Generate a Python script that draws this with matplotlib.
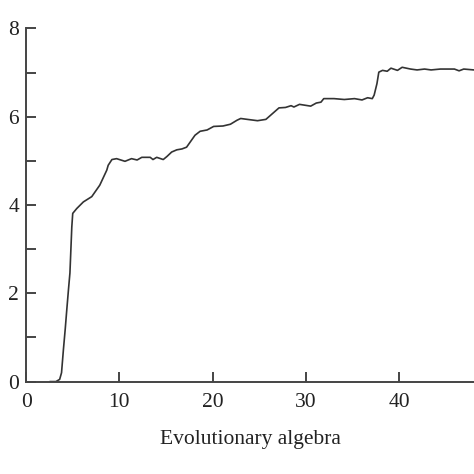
import matplotlib.pyplot as plt
from matplotlib.ticker import MultipleLocator

plt.rcParams['font.family'] = ['Liberation Serif', 'DejaVu Serif']

# curve
generations = [2.6, 3.2, 3.6, 3.8, 4.0, 4.2, 4.36, 4.55, 4.7, 4.9, 5.0, 5.43, 6.14,
               7.04, 7.9, 8.65, 8.8, 9.2, 9.7, 10.6, 11.3, 11.9, 12.4, 13.3, 13.6,
               14.0, 14.7, 15.1, 15.6, 16.15, 16.7, 17.2, 17.6, 18.1, 18.65, 19.4,
               20.1, 21.1, 21.9, 22.6, 23.0, 23.7, 24.8, 25.7, 26.4, 27.1, 27.8,
               28.4, 28.7, 29.3, 30.5, 31.1, 31.6, 31.9, 33.0, 34.1, 35.2, 36.0,
               36.6, 37.1, 37.3, 37.6, 37.8, 38.2, 38.7, 39.1, 39.8, 40.3, 41.2,
               41.9, 42.7, 43.4, 44.4, 45.9, 46.4, 46.9, 48.0, 50.0]
fitness = [0.0, 0.0, 0.05, 0.2, 0.72, 1.2, 1.62, 2.1, 2.46, 3.5, 3.81, 3.92, 4.07,
           4.19, 4.45, 4.79, 4.9, 5.03, 5.05, 4.99, 5.05, 5.02, 5.08, 5.08, 5.03,
           5.08, 5.03, 5.1, 5.2, 5.25, 5.27, 5.31, 5.43, 5.58, 5.67, 5.7, 5.78,
           5.79, 5.83, 5.92, 5.96, 5.94, 5.91, 5.94, 6.07, 6.2, 6.21, 6.25, 6.22,
           6.28, 6.24, 6.31, 6.33, 6.41, 6.41, 6.39, 6.41, 6.38, 6.43, 6.41,
           6.49, 6.75, 7.01, 7.05, 7.03, 7.1, 7.05, 7.12, 7.08, 7.06, 7.08, 7.06,
           7.08, 7.08, 7.04, 7.08, 7.06, 7.07]

fig = plt.figure(figsize=(4.74, 4.74), dpi=100)
ax = fig.add_axes([0.055, 0.195, 0.945, 0.745])

ax.plot(generations, fitness, color='#333333', linewidth=1.2)

ax.set_xlim(0, 48)
ax.set_ylim(0, 8)
ax.xaxis.set_major_locator(MultipleLocator(10))
ax.yaxis.set_major_locator(MultipleLocator(2))
ax.yaxis.set_minor_locator(MultipleLocator(1))

for side in ['top', 'right']:
    ax.spines[side].set_visible(False)
for side in ['left', 'bottom']:
    ax.spines[side].set_color('#444444')
    ax.spines[side].set_linewidth(1.4)

ax.tick_params(which='both', direction='in', length=7, width=1.4,
               color='#444444', labelsize=15.5, labelcolor='#222222')
ax.tick_params(axis='x', pad=8)
ax.tick_params(axis='y', pad=5)

ax.set_xlabel('Evolutionary algebra', fontsize=15.5, color='#222222', labelpad=13)

fig.savefig('out.png', dpi=100)
